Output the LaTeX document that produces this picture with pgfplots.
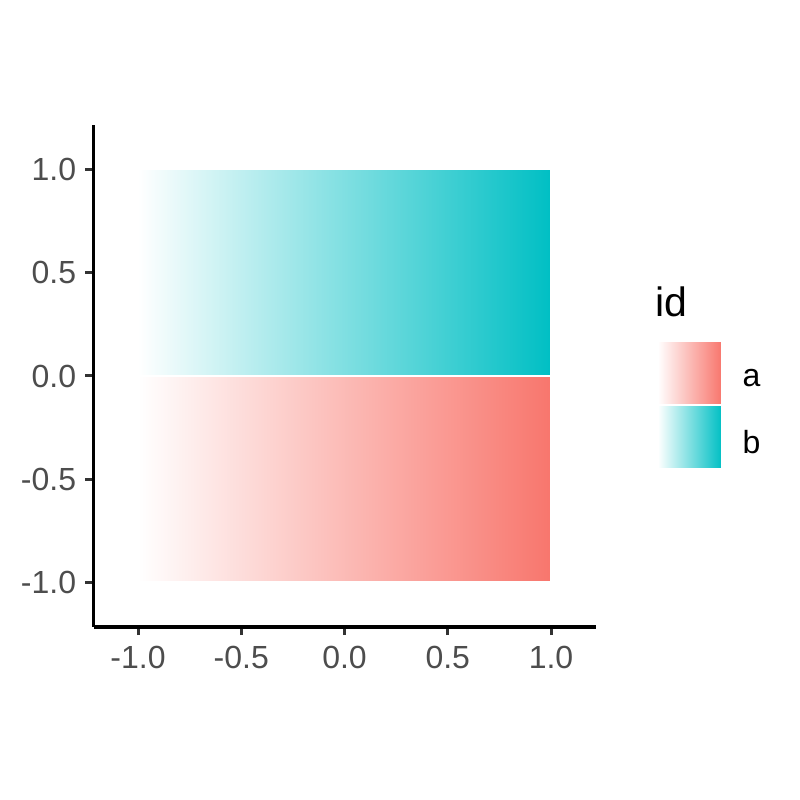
\documentclass[border=0pt]{standalone}
\usepackage{pgfplots}
\pgfplotsset{compat=1.18}
\usepackage{fontspec}
\setmainfont{Liberation Sans}
\definecolor{cred}{HTML}{F8766D}
\definecolor{cteal}{HTML}{00BFC4}
\definecolor{tickgray}{HTML}{4D4D4D}
\definecolor{tickc}{HTML}{333333}
\begin{document}
\begin{tikzpicture}
\path[use as bounding box] (0pt,0pt) rectangle (400pt,400pt);
\begin{axis}[
  at={(46.75pt,86.5pt)}, anchor=south west,
  scale only axis, width=251pt, height=251pt,
  xmin=-1.2155, xmax=1.2155, ymin=-1.2155, ymax=1.2155,
  axis lines=left, axis line style={-, line width=1.6pt, black},
  tick align=outside, major tick length=4pt,
  tick style={line width=1.5pt, color=tickc},
  xtick={-1,-0.5,0,0.5,1}, xticklabels={-1.0,-0.5,0.0,0.5,1.0},
  ytick={-1,-0.5,0,0.5,1}, yticklabels={-1.0,-0.5,0.0,0.5,1.0},
  ticklabel style={font=\fontsize{16}{19}\selectfont, text=tickgray},
  xticklabel style={inner sep=5.5pt},
  yticklabel style={inner sep=4.5pt},
  legend style={at={(1.121,0.5717)}, anchor=north west, draw=none, fill=none,
    inner sep=0pt, row sep=-1pt, column sep=10pt,
    nodes={inner sep=0pt, font=\fontsize{16}{19}\selectfont, text=black}},
  legend image code/.code={\path[#1] (0pt,-13pt) rectangle (32pt,19pt);},
  clip=false,
]
\addplot[draw=white, line width=1pt, mark=none, left color=white, right color=cred]
  coordinates {(-1,-1) (1,-1) (1,0) (-1,0)} -- cycle;
\addlegendentry{a}
\addplot[draw=white, line width=1pt, mark=none, left color=white, right color=cteal]
  coordinates {(-1,0) (1,0) (1,1) (-1,1)} -- cycle;
\addlegendentry{b}
\end{axis}
\node[anchor=base west, font=\fontsize{20.5}{24}\selectfont, inner sep=0pt] at (327.5pt,241.5pt) {id};
\end{tikzpicture}
\end{document}
